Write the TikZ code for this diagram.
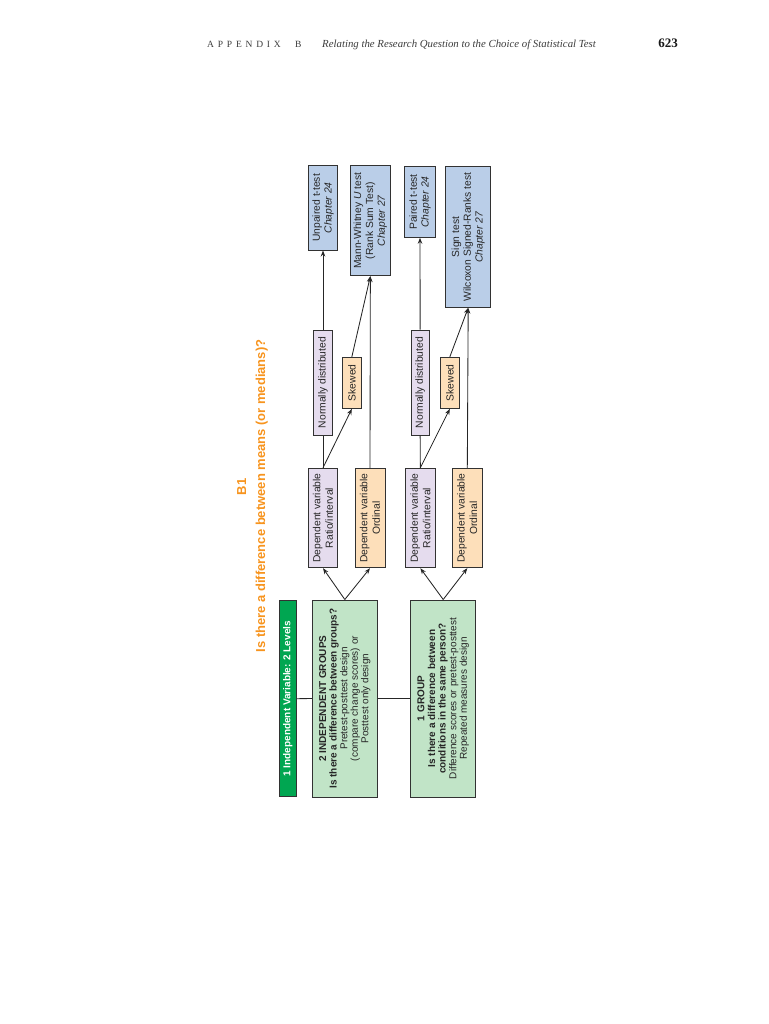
\documentclass[tikz,border=0pt]{standalone}
\usepackage{fontspec}
\setmainfont{Liberation Sans}
\newfontfamily\serifhead{Liberation Serif}
\usetikzlibrary{arrows.meta}

\definecolor{barGreen}{RGB}{0,166,81}
\definecolor{boxGreen}{RGB}{193,228,199}
\definecolor{boxLav}{RGB}{229,220,238}
\definecolor{boxPeach}{RGB}{253,223,186}
\definecolor{boxBlue}{RGB}{186,206,232}
\definecolor{titleOrange}{RGB}{247,148,30}
\definecolor{edgeGray}{RGB}{50,50,50}
\definecolor{headGray}{RGB}{60,60,60}

\begin{document}
\begin{tikzpicture}[x=1pt,y=-1pt,
  box/.style={draw=edgeGray, line width=1pt, rotate=90, inner sep=0pt,
    align=center, text=black!85, font=\fontsize{10.3}{12.5}\selectfont},
  greenbox/.style={box, fill=boxGreen, font=\fontsize{10}{10.6}\selectfont},
  lavbox/.style={box, fill=boxLav},
  peachbox/.style={box, fill=boxPeach},
  bluebox/.style={box, fill=boxBlue, font=\fontsize{10.3}{11.8}\selectfont},
  conn/.style={draw=black!85, line width=0.85pt},
  arr/.style={conn, -{Stealth[length=6pt,width=4.5pt]}},
  head/.style={anchor=base west, inner sep=0pt, text=headGray}
]
\useasboundingbox (0,0) rectangle (768,1024);

% header
\node[head, font=\serifhead\fontsize{9.5}{10}\selectfont\addfontfeature{LetterSpace=40}] (hA) at (207,48) {APPENDIX};
\node[head, font=\serifhead\fontsize{9.5}{10}\selectfont] (hB) at (295,48) {B};
\node[head, font=\serifhead\itshape\fontsize{10.8}{12}\selectfont] (hT) at (322,48) {Relating the Research Question to the Choice of Statistical Test};
\node[head, anchor=base east, font=\serifhead\bfseries\fontsize{13}{14}\selectfont, text=black!90] (hP) at (678,48) {623};

% title
\node[rotate=90, inner sep=0pt, text=titleOrange, font=\bfseries\fontsize{13}{14}\selectfont] (b1) at (241.7,487) {B1};
\node[rotate=90, inner sep=0pt, text=titleOrange, font=\bfseries\fontsize{13}{14}\selectfont] (q) at (261.7,496) {Is there a difference between means (or medians)?};

% level boxes
\node[box, fill=barGreen, text=white, font=\bfseries\fontsize{10}{11}\selectfont,
  minimum width=196pt, minimum height=17.7pt] (bar) at (287.85,698.7) {1 Independent Variable: 2 Levels};
\node[greenbox, minimum width=197pt, minimum height=65pt] (g2) at (344.8,698.5)
  {\textbf{2 INDEPENDENT GROUPS}\\ \textbf{Is there a difference between groups?}\\ Pretest-posttest design\\ (compare change scores) or\\ Posttest only design};
\node[greenbox, minimum width=197pt, minimum height=65pt] (g1) at (443.2,698.5)
  {\textbf{1 GROUP}\\ \textbf{Is there a difference between}\\ \textbf{conditions in the same person?}\\ Difference scores or pretest-posttest\\ Repeated measures design};

% dependent variable boxes
\node[lavbox, minimum width=99.4pt, minimum height=29.4pt] (dvr1) at (323,518) {Dependent variable\\ Ratio/interval};
\node[peachbox, minimum width=99.4pt, minimum height=30pt] (dvo1) at (370,518) {Dependent variable\\ Ordinal};
\node[lavbox, minimum width=99.4pt, minimum height=30.7pt] (dvr2) at (420.35,518) {Dependent variable\\ Ratio/interval};
\node[peachbox, minimum width=99.4pt, minimum height=30pt] (dvo2) at (467.3,518) {Dependent variable\\ Ordinal};

% distribution boxes
\node[lavbox, minimum width=105pt, minimum height=19.4pt] (nd1) at (323,382.5) {Normally distributed};
\node[peachbox, minimum width=51pt, minimum height=18.3pt] (sk1) at (351.85,382.8) {Skewed};
\node[lavbox, minimum width=105pt, minimum height=18.3pt] (nd2) at (420.15,382.5) {Normally distributed};
\node[peachbox, minimum width=51pt, minimum height=18.3pt] (sk2) at (449.85,382.8) {Skewed};

% test boxes
\node[bluebox, minimum width=84.3pt, minimum height=29.4pt] (ut) at (323,207.85) {Unpaired t-test\\ \textit{Chapter 24}};
\node[bluebox, minimum width=110pt, minimum height=40.7pt] (mw) at (370.35,220.7) {Mann-Whitney \textit{U} test\\ (Rank Sum Test)\\ \textit{Chapter 27}};
\node[bluebox, minimum width=70.6pt, minimum height=31.4pt] (pt) at (420,202) {Paired t-test\\ \textit{Chapter 24}};
\node[bluebox, minimum width=140.6pt, minimum height=45pt] (st) at (468.2,237) {Sign test\\ Wilcoxon Signed-Ranks test\\ \textit{Chapter 27}};

% connectors
\draw[conn] (bar.south) -- (g2.north);
\draw[conn] (g2.south) -- (g1.north);

\draw[arr] (g2.east) -- (dvr1.west);
\draw[arr] (g2.east) -- (dvo1.west);
\draw[arr] (g1.east) -- (dvr2.west);
\draw[arr] (g1.east) -- (dvo2.west);

\draw[conn] (dvr1.east) -- (nd1.west);
\draw[arr] (dvr1.east) -- (sk1.west);
\draw[arr] (nd1.east) -- (ut.west);
\draw[arr] (sk1.east) -- (mw.west);
\draw[arr] (dvo1.east) -- (mw.west);

\draw[conn] (dvr2.east) -- (nd2.west);
\draw[arr] (dvr2.east) -- (sk2.west);
\draw[arr] (nd2.east) -- (pt.west);
\draw[arr] (sk2.east) -- (st.west);
\draw[arr] (dvo2.east) -- (st.west);
\end{tikzpicture}
\end{document}
